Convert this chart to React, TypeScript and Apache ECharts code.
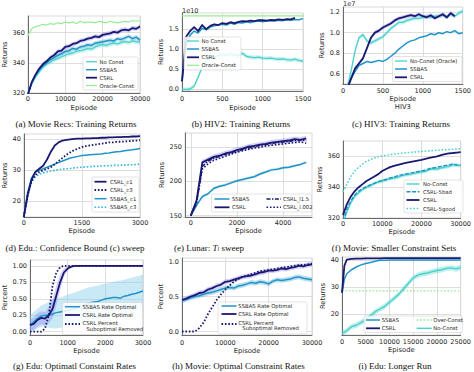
import React, { useEffect, useRef } from 'react';
import * as echarts from 'echarts';

// ---------- (a) Movie Recs: Training Returns ----------
const aX = [0, 1000, 2000, 3000, 4000, 5000, 6000, 7000, 8000, 9000, 10000, 11000, 12000, 13000, 14000, 15000, 16000, 17000, 18000, 19000, 20000, 21000, 22000, 23000, 24000, 25000, 26000, 27000, 28000, 29000, 30000];
const aNoConst = [319, 326, 330.5, 334, 337, 339, 340.5, 342, 343, 344, 345, 346, 346.5, 347.5, 348, 348.5, 349.5, 349, 350.5, 351.5, 352, 351.5, 352.5, 353, 352.5, 353.5, 354, 353.5, 354.5, 354, 353.5];
const aSSBAS = [319, 326.5, 331.5, 335, 338, 340, 342, 343.5, 345, 346, 347.5, 348, 349.5, 349, 350.5, 351, 352, 351.5, 353, 353.5, 354, 354.5, 355, 354.5, 356, 355.5, 356.5, 357.5, 356, 357, 355];
const aCSRL = [319, 327, 332, 336, 339, 341, 343.5, 345, 347.5, 348, 350.5, 351, 352.5, 353, 354.5, 355, 356, 356.5, 357.5, 357, 358.5, 359, 359.5, 360.5, 360, 361.5, 362, 361.5, 363, 362.5, 364];
const aOracle = [358, 362.5, 364, 364.5, 365.5, 365, 366, 365.5, 366.5, 366, 367, 366.5, 367, 366, 367.5, 366.5, 367, 367, 366.5, 367.5, 367, 366.5, 367.5, 367, 366.5, 367, 367.5, 367, 368, 367.5, 368];
const aSpread = 1.5;
const aXTicks = [0, 10000, 20000, 30000];
const aYTicks = [320, 340, 360];

// ---------- (b) HIV2: Training Returns (x1e10) ----------
const bX = [0, 50, 100, 150, 200, 250, 300, 350, 400, 450, 500, 550, 600, 650, 700, 750, 800, 850, 900, 950, 1000, 1050, 1100, 1150, 1200, 1250, 1300, 1350, 1400, 1450, 1500];
const bNoConst = [0, 0, 0.01, 0.08, 0.3, 0.55, 0.72, 0.78, 0.8, 0.84, 0.86, 0.85, 0.88, 0.86, 0.84, 0.9, 0.82, 0.8, 0.79, 0.8, 0.78, 0.77, 0.78, 0.76, 0.75, 0.76, 0.74, 0.73, 0.75, 0.72, 0.7];
const bSSBAS = [0.2, 1.1, 1.35, 1.45, 1.4, 1.52, 1.48, 1.55, 1.58, 1.6, 1.62, 1.6, 1.65, 1.62, 1.66, 1.65, 1.68, 1.66, 1.69, 1.7, 1.68, 1.7, 1.71, 1.7, 1.72, 1.71, 1.73, 1.72, 1.74, 1.73, 1.76];
const bCSRL = [0.2, 1.3, 1.45, 1.55, 1.45, 1.6, 1.5, 1.58, 1.62, 1.6, 1.65, 1.63, 1.67, 1.65, 1.68, 1.7, 1.69, 1.71, 1.7, 1.72, 1.72, 1.71, 1.73, 1.72, 1.74, 1.73, 1.75, 1.74, 1.78];
const bOracleX = [0, 1500];
const bOracle = [1.83, 1.83];
const bSpread = 0.05;
const bXTicks = [0, 500, 1000, 1500];
const bYTicks = [0, 0.5, 1.0, 1.5];

// ---------- (c) HIV3: Training Returns (x1e7) ----------
const cX = [50, 100, 150, 200, 250, 300, 350, 400, 450, 500, 550, 600, 650, 700, 750, 800, 850, 900, 950, 1000, 1050, 1100, 1150, 1200, 1250, 1300, 1350, 1400, 1450, 1500];
const cNoConst = [0.45, 0.62, 0.82, 0.95, 0.98, 0.92, 0.9, 0.92, 0.94, 0.96, 1.0, 1.04, 1.07, 1.1, 1.1, 1.12, 1.13, 1.14, 1.14, 1.15, 1.16, 1.15, 1.16, 1.16, 1.17, 1.15, 1.18, 1.16, 1.19, 1.21];
const cSSBAS = [0.45, 0.55, 0.62, 0.68, 0.7, 0.72, 0.71, 0.72, 0.73, 0.72, 0.74, 0.77, 0.8, 0.84, 0.87, 0.9, 0.92, 0.93, 0.95, 0.96, 0.97, 0.99, 0.98, 1.0, 0.99, 1.01, 1.0, 1.02, 0.99, 1.0];
const cCSRL = [0.45, 0.55, 0.65, 0.7, 0.75, 0.85, 0.95, 1.0, 1.02, 1.05, 1.07, 1.09, 1.12, 1.14, 1.15, 1.16, 1.17, 1.16, 1.18, 1.16, 1.15, 1.17, 1.14, 1.16, 1.18, 1.15, 1.19, 1.16];
const cSpread = 0.02;
const cXTicks = [0, 500, 1000, 1500];
const cYTicks = [0.6, 0.8, 1.0, 1.2];

// ---------- (d) Edu.: Confidence Bound (c) sweep ----------
const dX = [0, 100, 200, 300, 400, 500, 600, 700, 800, 900, 1000, 1100, 1200, 1300, 1400, 1500, 1600, 1700, 1800, 1900, 2000, 2100, 2200, 2300, 2400, 2500, 2600, 2700, 2800, 2900, 3000];
const dCSRLc1 = [15, 22, 27, 29.5, 30.5, 31.5, 33.5, 36, 38, 39, 39.6, 39.8, 40, 40.1, 40.2, 40.2, 40.3, 40.3, 40.4, 40.4, 40.5, 40.5, 40.6, 40.6, 40.7, 40.7, 40.8, 40.8, 40.9, 40.9, 41];
const dCSRLc3 = [15, 22, 26.5, 28.5, 29.5, 30, 30.5, 31, 32, 33, 34, 35, 35.8, 36.5, 37, 37.5, 37.8, 38, 38.2, 38.4, 38.6, 38.8, 39, 39, 39.2, 39.2, 39.3, 39.4, 39.5, 39.6, 39.7];
const dSSBASc1 = [15, 23, 27.5, 29.5, 30, 30.5, 31, 31.5, 32, 32.5, 33, 33.5, 34, 34.2, 34.5, 34.8, 34.9, 35, 35.1, 35.2, 35.3, 35.5, 35.6, 35.8, 36, 36.1, 36.3, 36.5, 36.6, 36.8, 37];
const dSSBASc3 = [15, 22, 26, 28, 28.8, 29.2, 29.5, 29.8, 30, 30.2, 30.4, 30.5, 30.6, 30.8, 30.9, 31, 31.1, 31.2, 31.3, 31.3, 31.4, 31.5, 31.5, 31.6, 31.6, 31.7, 31.7, 31.8, 31.8, 31.9, 32];
const dXTicks = [0, 1500, 3000];
const dYTicks = [20, 30, 40];

// ---------- (e) Lunar: T_l sweep ----------
const eX = [0, 250, 500, 750, 1000, 1250, 1500, 1750, 2000, 2250, 2500, 2750, 3000, 3250, 3500, 3750, 4000, 4250, 4500, 4750, 5000];
const eSSBAS = [150, 165, 178, 182, 190, 193, 195, 198, 201, 203, 205, 207, 211, 214, 217, 218, 220, 221, 223, 225, 228];
const eCSRL = [150, 172, 228, 232, 236, 238, 241, 243, 246, 248, 251, 252, 254, 255, 257, 258, 259, 260, 262, 261, 263];
const eL15 = [150, 168, 222, 230, 234, 237, 240, 242, 245, 247, 249, 251, 253, 254, 256, 257, 258, 259, 260, 261, 260];
const eL002 = [150, 170, 218, 226, 231, 234, 237, 240, 243, 245, 247, 249, 250, 252, 253, 254, 255, 256, 257, 258, 256];
const eSpread = 4;
const eXTicks = [0, 2000, 4000];
const eYTicks = [150, 200, 250];

// ---------- (f) Movie: Smaller Constraint Sets ----------
const fX = aX;
const fNoConst = [316, 324, 330, 334, 336.5, 338.5, 340, 341, 342.5, 343.5, 344, 344.8, 345.5, 346, 346.5, 347.5, 348, 348.3, 349, 349.5, 350, 350.3, 351.5, 352, 351.8, 352.5, 353, 353.5, 354.5, 354.2, 354];
const f5bad = [318, 326, 331, 335, 337.5, 339, 340.5, 341.5, 342.5, 343.5, 344.5, 345, 346, 346.5, 347.5, 348, 348.5, 349, 349.5, 350, 350.5, 351, 352, 352.5, 353, 353.5, 354, 354.5, 355, 354.5, 354.5];
const fCSRL = [322, 329, 334, 337.5, 340, 342, 344, 345.5, 347, 348.5, 350.5, 351.8, 353, 353.8, 354.5, 355.2, 355.8, 356.3, 356.8, 357.3, 357.8, 358.4, 359, 359.5, 360, 360.8, 361.5, 362, 362.2, 362.5, 362.8];
const f5good = [337, 342, 347, 350.5, 353, 355, 357, 358, 359, 359.7, 360.3, 360.7, 361.1, 361.5, 361.8, 362.1, 362.4, 362.6, 362.8, 363, 363.2, 363.4, 363.6, 363.8, 364, 364.2, 364.3, 364.5, 364.7, 364.8, 365];
const fSpread = 1.2;
const fXTicks = [0, 10000, 20000, 30000];
const fYTicks = [320, 340, 360];

// ---------- (g) Edu: Optimal Constraint Rates ----------
const gX = dX;
const gSSBAS = [0.1, 0.15, 0.2, 0.24, 0.25, 0.25, 0.27, 0.29, 0.3, 0.31, 0.32, 0.34, 0.36, 0.38, 0.4, 0.42, 0.44, 0.45, 0.46, 0.48, 0.5, 0.51, 0.52, 0.52, 0.51, 0.54, 0.55, 0.57, 0.58, 0.6, 0.62];
const gSSBASLo = [0, 0.02, 0.05, 0.08, 0.08, 0.06, 0.05, 0.05, 0.06, 0.07, 0.08, 0.09, 0.1, 0.12, 0.13, 0.15, 0.16, 0.17, 0.18, 0.2, 0.21, 0.22, 0.24, 0.25, 0.26, 0.27, 0.29, 0.3, 0.32, 0.34, 0.36];
const gSSBASHi = [0.25, 0.3, 0.35, 0.4, 0.42, 0.45, 0.48, 0.5, 0.52, 0.54, 0.56, 0.58, 0.6, 0.62, 0.64, 0.66, 0.68, 0.69, 0.7, 0.72, 0.73, 0.74, 0.76, 0.77, 0.78, 0.79, 0.81, 0.82, 0.84, 0.85, 0.87];
const gCSRL = [0.1, 0.12, 0.18, 0.21, 0.2, 0.25, 0.35, 0.55, 0.75, 0.9, 0.96, 0.99, 1, 1, 1, 1, 1, 1, 1, 1, 1, 1, 1, 1, 1, 1, 1, 1, 1, 1, 1];
const gCSRLSpread = [0.08, 0.1, 0.1, 0.1, 0.1, 0.12, 0.15, 0.15, 0.12, 0.06, 0.03, 0.01, 0, 0, 0, 0, 0, 0, 0, 0, 0, 0, 0, 0, 0, 0, 0, 0, 0, 0, 0];
const gPct = [0, 0, 0, 0, 0.05, 0.25, 0.7, 0.9, 0.98, 1, 1, 1, 1, 1, 1, 1, 1, 1, 1, 1, 1, 1, 1, 1, 1, 1, 1, 1, 1, 1, 1];
const gXTicks = [0, 1000, 2000, 3000];
const gYTicks = [0, 0.25, 0.5, 0.75, 1.0];

// ---------- (h) Movie: Optimal Constraint Rates ----------
const hX = aX;
const hSSBAS = [0.44, 0.46, 0.48, 0.5, 0.51, 0.53, 0.55, 0.56, 0.58, 0.6, 0.62, 0.63, 0.62, 0.65, 0.66, 0.68, 0.7, 0.69, 0.71, 0.7, 0.68, 0.72, 0.74, 0.73, 0.74, 0.75, 0.77, 0.78, 0.76, 0.75, 0.74];
const hCSRL = [0.45, 0.47, 0.5, 0.52, 0.55, 0.56, 0.6, 0.62, 0.65, 0.67, 0.71, 0.72, 0.74, 0.76, 0.78, 0.79, 0.8, 0.82, 0.84, 0.85, 0.87, 0.87, 0.88, 0.9, 0.89, 0.91, 0.92, 0.94, 0.93, 0.95, 0.96];
const hPct = [0, 0, 0, 0, 0.05, 0.13, 0.25, 0.35, 0.45, 0.53, 0.6, 0.66, 0.71, 0.75, 0.78, 0.8, 0.82, 0.84, 0.86, 0.87, 0.88, 0.89, 0.9, 0.91, 0.92, 0.93, 0.94, 0.95, 0.95, 0.96, 0.97];
const hSpread = 0.035;
const hXTicks = [0, 10000, 20000, 30000];
const hYTicks = [0, 0.5, 1.0];

// ---------- (i) Edu: Longer Run ----------
const iX = [0, 500, 1000, 2000, 3000, 4000, 5000, 6000, 7000, 8000, 9000, 10000, 11000, 12000, 13000, 14000, 15000, 16000, 17000, 18000, 19000, 20000, 21000, 22000, 23000, 24000, 25000];
const iSSBAS = [28, 33, 35, 36.5, 37.5, 38.3, 38.8, 39.2, 39.6, 40, 40, 40.1, 40.1, 40.1, 40.1, 40.1, 40.1, 40.1, 40.1, 40.1, 40.1, 40.1, 40.1, 40.1, 40.1, 40.1, 40.1];
const iCSRL = [28, 38, 40.2, 40.5, 40.6, 40.6, 40.7, 40.7, 40.7, 40.7, 40.8, 40.8, 40.8, 40.8, 40.8, 40.8, 40.8, 40.8, 40.8, 40.8, 40.8, 40.8, 40.8, 40.8, 40.8, 40.8, 40.8];
const iOverX = [0, 25000];
const iOver = [28.7, 28.7];
const iNoConst = [13, 13.5, 14, 15.5, 16, 17, 18, 19.5, 21, 22, 23, 24.5, 26, 27.5, 29.5, 31.5, 33.5, 34.5, 35, 35.3, 35.8, 36.2, 36.5, 37, 37.2, 36.8, 37.3];
const iSpread = 1;
const iXTicks = [0, 5000, 10000, 15000, 20000, 25000];
const iYTicks = [20, 30, 40];

// ---------- styles ----------
const NAVY = '#191970';
const BLUE = '#1f94c8';
const TURQ = '#48d1cc';
const GREEN = '#90ee90';
const CYAN = '#33b5e5';
const PURPLE = '#7b68ee';
const SANS = 'DejaVu Sans';
const SERIF = 'Liberation Serif';
const DOT = [1.6, 1.8];
const DASH = [4, 1.6];
const DASHDOT = [4, 1.5, 1.4, 1.5];

type L = { x: number[]; y: number[]; c: string; w: number; d?: number[] };
type B = { x: number[]; lo: number[]; hi: number[]; c: string; o: number };
type P = {
  box: number[]; xr: number[]; xt: number[]; yr: number[]; yt: number[]; yd: number;
  xName: string; yName: string; lm: number; ng: number; yng: number; lines: L[]; bands: B[];
};

const lo = (ys: number[], s: number | number[]) => ys.map((v, k) => v - (Array.isArray(s) ? s[k] : s));
const hi = (ys: number[], s: number | number[]) => ys.map((v, k) => v + (Array.isArray(s) ? s[k] : s));

const panels: P[] = [
  {
    box: [23, 16, 117, 77], xr: [0, 30000], xt: aXTicks, yr: [320, 371], yt: aYTicks, yd: 0,
    xName: 'Episode', yName: 'Returns', lm: 2.8, ng: 10.8, yng: 14.5,
    bands: [
      { x: aX, lo: lo(aNoConst, aSpread), hi: hi(aNoConst, aSpread), c: TURQ, o: 0.3 },
      { x: aX, lo: lo(aSSBAS, aSpread), hi: hi(aSSBAS, aSpread), c: BLUE, o: 0.25 },
      { x: aX, lo: lo(aCSRL, aSpread), hi: hi(aCSRL, aSpread), c: PURPLE, o: 0.3 },
    ],
    lines: [
      { x: aX, y: aOracle, c: GREEN, w: 1.2 },
      { x: aX, y: aNoConst, c: TURQ, w: 1.3 },
      { x: aX, y: aSSBAS, c: BLUE, w: 1.5 },
      { x: aX, y: aCSRL, c: NAVY, w: 1.8 },
    ],
  },
  {
    box: [182, 13, 121, 78], xr: [0, 1500], xt: bXTicks, yr: [-0.04, 1.9], yt: bYTicks, yd: 1,
    xName: 'Episode', yName: 'Returns', lm: 4.7, ng: 12.8, yng: 16.5,
    bands: [{ x: bX, lo: lo(bNoConst, bSpread), hi: hi(bNoConst, bSpread), c: TURQ, o: 0.3 }],
    lines: [
      { x: bOracleX, y: bOracle, c: GREEN, w: 1.2 },
      { x: bX, y: bNoConst, c: TURQ, w: 1.3 },
      { x: bX, y: bSSBAS, c: BLUE, w: 1.5 },
      { x: bX, y: bCSRL, c: NAVY, w: 1.8 },
    ],
  },
  {
    box: [343, 7, 121, 77], xr: [0, 1500], xt: cXTicks, yr: [0.5, 1.25], yt: cYTicks, yd: 1,
    xName: 'Episode\nHIV3', yName: 'Returns', lm: 3.4, ng: 11.2, yng: 15.5,
    bands: [
      { x: cX, lo: lo(cNoConst, cSpread), hi: hi(cNoConst, cSpread), c: TURQ, o: 0.3 },
      { x: cX.slice(0, cCSRL.length), lo: lo(cCSRL, cSpread), hi: hi(cCSRL, cSpread), c: PURPLE, o: 0.3 },
    ],
    lines: [
      { x: cX, y: cNoConst, c: TURQ, w: 1.3 },
      { x: cX, y: cSSBAS, c: BLUE, w: 1.5 },
      { x: cX, y: cCSRL, c: NAVY, w: 1.8 },
    ],
  },
  {
    box: [21, 134, 119, 83], xr: [0, 3000], xt: dXTicks, yr: [15, 41.7], yt: dYTicks, yd: 0,
    xName: 'Episode', yName: 'Returns', lm: 2.5, ng: 9.5, yng: 13.5,
    bands: [],
    lines: [
      { x: dX, y: dSSBASc3, c: CYAN, w: 1.6, d: DOT },
      { x: dX, y: dSSBASc1, c: BLUE, w: 1.5 },
      { x: dX, y: dCSRLc3, c: NAVY, w: 1.8, d: DOT },
      { x: dX, y: dCSRLc1, c: NAVY, w: 1.8 },
    ],
  },
  {
    box: [185, 133, 127, 84], xr: [-250, 5250], xt: eXTicks, yr: [148, 271], yt: eYTicks, yd: 0,
    xName: 'Episode', yName: 'Returns', lm: 2.5, ng: 8.8, yng: 18.5,
    bands: [
      { x: eX, lo: lo(eCSRL, eSpread), hi: hi(eCSRL, eSpread), c: PURPLE, o: 0.3 },
      { x: eX, lo: lo(eSSBAS, eSpread / 2), hi: hi(eSSBAS, eSpread / 2), c: BLUE, o: 0.2 },
    ],
    lines: [
      { x: eX, y: eSSBAS, c: BLUE, w: 1.5 },
      { x: eX, y: eL002, c: NAVY, w: 1.6, d: DOT },
      { x: eX, y: eL15, c: NAVY, w: 1.6, d: DASHDOT },
      { x: eX, y: eCSRL, c: NAVY, w: 1.8 },
    ],
  },
  {
    box: [343, 141, 130, 77], xr: [0, 30000], xt: fXTicks, yr: [320, 370], yt: fYTicks, yd: 0,
    xName: 'Episode', yName: 'Returns', lm: 2.1, ng: 7.8, yng: 15.5,
    bands: [{ x: fX, lo: lo(fNoConst, fSpread), hi: hi(fNoConst, fSpread), c: TURQ, o: 0.35 }],
    lines: [
      { x: fX, y: fNoConst, c: TURQ, w: 1.4 },
      { x: fX, y: f5bad, c: BLUE, w: 1.4, d: DASH },
      { x: fX, y: fCSRL, c: NAVY, w: 1.8 },
      { x: fX, y: f5good, c: TURQ, w: 1.5, d: DOT },
    ],
  },
  {
    box: [25, 260, 118, 75], xr: [0, 3000], xt: gXTicks, yr: [-0.05, 1.09], yt: gYTicks, yd: 2,
    xName: 'Episode', yName: 'Percent', lm: 4.4, ng: 12.5, yng: 17.5,
    bands: [
      { x: gX, lo: gSSBASLo, hi: gSSBASHi, c: '#87ceeb', o: 0.45 },
      { x: gX, lo: lo(gCSRL, gCSRLSpread), hi: hi(gCSRL, gCSRLSpread), c: PURPLE, o: 0.3 },
    ],
    lines: [
      { x: gX, y: gSSBAS, c: BLUE, w: 1.5 },
      { x: gX, y: gCSRL, c: NAVY, w: 1.8 },
      { x: gX, y: gPct, c: NAVY, w: 1.8, d: DOT },
    ],
  },
  {
    box: [182, 258, 130, 77], xr: [0, 30000], xt: hXTicks, yr: [-0.05, 1.05], yt: hYTicks, yd: 1,
    xName: 'Episode', yName: 'Percent', lm: 4, ng: 12.5, yng: 15.5,
    bands: [
      { x: hX, lo: lo(hSSBAS, hSpread), hi: hi(hSSBAS, hSpread), c: BLUE, o: 0.3 },
      { x: hX, lo: lo(hCSRL, hSpread), hi: hi(hCSRL, hSpread), c: PURPLE, o: 0.3 },
    ],
    lines: [
      { x: hX, y: hSSBAS, c: BLUE, w: 1.5 },
      { x: hX, y: hCSRL, c: NAVY, w: 1.8 },
      { x: hX, y: hPct, c: NAVY, w: 1.8, d: DOT },
    ],
  },
  {
    box: [342, 257, 121, 78], xr: [0, 25000], xt: iXTicks, yr: [12.4, 41.2], yt: iYTicks, yd: 0,
    xName: 'Episode', yName: 'Returns', lm: 3.4, ng: 11.5, yng: 14.5,
    bands: [{ x: iX, lo: lo(iNoConst, iSpread), hi: hi(iNoConst, iSpread), c: TURQ, o: 0.35 }],
    lines: [
      { x: iOverX, y: iOver, c: GREEN, w: 1.3, d: DOT },
      { x: iX, y: iNoConst, c: TURQ, w: 1.4 },
      { x: iX, y: iSSBAS, c: BLUE, w: 1.5 },
      { x: iX, y: iCSRL, c: NAVY, w: 1.8 },
    ],
  },
];

type LI = { t: string; c?: string; w?: number; d?: number[]; lx?: number; len?: number; ly: number; tx: number; ty?: number };
function legendBox(x: number, y: number, w: number, h: number, items: LI[]) {
  const els: any[] = [
    {
      type: 'rect', z: 100, shape: { x, y, width: w, height: h, r: 1.5 },
      style: { fill: 'rgba(255,255,255,0.85)', stroke: '#d0d0d0', lineWidth: 0.6 },
    },
  ];
  items.forEach((it) => {
    if (it.c) {
      els.push({
        type: 'line', z: 101,
        shape: { x1: it.lx!, y1: it.ly, x2: it.lx! + (it.len ?? 12), y2: it.ly },
        style: { stroke: it.c, lineWidth: it.w ?? 1.5, lineDash: it.d ?? null, lineCap: 'butt' },
      });
    }
    els.push({
      type: 'text', z: 101, x: it.tx, y: it.ty ?? it.ly,
      style: { text: it.t, fontSize: 5.3, fontFamily: SANS, fill: '#262626', align: 'left', verticalAlign: 'middle' },
    });
  });
  return els;
}

function caption(text: string, x: number, y: number, rich?: any) {
  return {
    type: 'text', z: 100, x, y,
    style: { text, fontSize: 9, fontFamily: SERIF, fill: '#111', align: 'center', verticalAlign: 'middle', rich },
  };
}

function buildOption(): any {
  const grid = panels.map((p) => ({
    left: p.box[0], top: p.box[1], width: p.box[2], height: p.box[3],
    show: true, borderColor: '#cfcfcf', borderWidth: 0.8,
  }));
  const tickText = { fontSize: 6.5, fontFamily: SANS, color: '#262626' };
  const nameText = { fontSize: 6.8, fontFamily: SANS, color: '#262626', lineHeight: 7.6 };
  const xAxis = panels.map((p, i) => ({
    type: 'value', gridIndex: i, min: p.xr[0], max: p.xr[1],
    axisLine: { show: true, onZero: false, lineStyle: { color: '#4d4d4d', width: 0.8 } },
    axisTick: { show: false, customValues: p.xt },
    axisLabel: { ...tickText, customValues: p.xt, margin: p.lm, formatter: (v: number) => String(v) },
    splitLine: { show: true, lineStyle: { color: '#d6d6d6', width: 0.8 } },
    name: p.xName, nameLocation: 'middle', nameGap: p.ng, nameTextStyle: nameText,
  }));
  const yAxis = panels.map((p, i) => ({
    type: 'value', gridIndex: i, min: p.yr[0], max: p.yr[1],
    axisLine: { show: true, onZero: false, lineStyle: { color: '#4d4d4d', width: 0.8 } },
    axisTick: { show: false, customValues: p.yt },
    axisLabel: { ...tickText, customValues: p.yt, margin: 3, formatter: (v: number) => v.toFixed(p.yd) },
    splitLine: { show: true, lineStyle: { color: '#d6d6d6', width: 0.8 } },
    name: p.yName, nameLocation: 'middle', nameGap: p.yng, nameRotate: 90, nameTextStyle: nameText,
  }));

  const series: any[] = [];
  panels.forEach((p, i) => {
    p.bands.forEach((b) => {
      series.push({
        type: 'custom', xAxisIndex: i, yAxisIndex: i, silent: true, clip: true, z: 1,
        data: b.x.map((x, k) => [x, b.lo[k], b.hi[k]]),
        encode: { x: 0, y: [1, 2] },
        renderItem: (params: any, api: any) => {
          if (params.dataIndex !== 0) return null;
          const cs = params.coordSys;
          const clamp = (pt: number[]) => [
            Math.min(Math.max(pt[0], cs.x), cs.x + cs.width),
            Math.min(Math.max(pt[1], cs.y), cs.y + cs.height),
          ];
          const pts: number[][] = [];
          for (let k = 0; k < b.x.length; k++) pts.push(clamp(api.coord([b.x[k], b.hi[k]])));
          for (let k = b.x.length - 1; k >= 0; k--) pts.push(clamp(api.coord([b.x[k], b.lo[k]])));
          return { type: 'polygon', shape: { points: pts }, style: { fill: b.c, opacity: b.o } };
        },
      });
    });
    p.lines.forEach((l, k) => {
      series.push({
        type: 'line', xAxisIndex: i, yAxisIndex: i, silent: true, clip: true, z: 3 + k,
        data: l.y.map((y, j) => [l.x[j], y]),
        showSymbol: false, symbol: 'none',
        lineStyle: { color: l.c, width: l.w, type: l.d ?? 'solid', cap: 'butt', join: 'round' },
        itemStyle: { color: l.c },
        emphasis: { disabled: true },
      });
    });
  });

  const graphic: any[] = [
    // offset texts
    { type: 'text', z: 100, x: 182, y: 10.5, style: { text: '1e10', fontSize: 6.5, fontFamily: SANS, fill: '#262626', verticalAlign: 'middle' } },
    { type: 'text', z: 100, x: 343, y: 3.6, style: { text: '1e7', fontSize: 6.5, fontFamily: SANS, fill: '#262626', verticalAlign: 'middle' } },
    // legends
    ...legendBox(83, 57, 55, 33, [
      { t: 'No Const', c: TURQ, w: 1.3, lx: 86, len: 11, ly: 61.7, tx: 99.5 },
      { t: 'SSBAS', c: BLUE, w: 1.5, lx: 86, len: 11, ly: 69.7, tx: 99.5 },
      { t: 'CSRL', c: NAVY, w: 1.8, lx: 86, len: 11, ly: 77.7, tx: 99.5 },
      { t: 'Oracle-Const', c: GREEN, w: 1.2, lx: 86, len: 11, ly: 85.5, tx: 99.5 },
    ]),
    ...legendBox(184, 37, 57, 33, [
      { t: 'No Const', c: TURQ, w: 1.3, lx: 187, len: 12, ly: 41, tx: 201.5 },
      { t: 'SSBAS', c: BLUE, w: 1.5, lx: 187, len: 12, ly: 49, tx: 201.5 },
      { t: 'CSRL', c: NAVY, w: 1.8, lx: 187, len: 12, ly: 57.3, tx: 201.5 },
      { t: 'Oracle-Const', c: GREEN, w: 1.2, lx: 187, len: 12, ly: 65.3, tx: 201.5 },
    ]),
    ...legendBox(392.5, 56.5, 69.5, 25, [
      { t: 'No-Const (Oracle)', c: TURQ, w: 1.3, lx: 395, len: 12, ly: 61, tx: 410 },
      { t: 'SSBAS', c: BLUE, w: 1.5, lx: 395, len: 12, ly: 69, tx: 410 },
      { t: 'CSRL', c: NAVY, w: 1.8, lx: 395, len: 12, ly: 77.3, tx: 410 },
    ]),
    ...legendBox(92, 177, 47, 35, [
      { t: 'CSRL_c1', c: NAVY, w: 1.8, lx: 94.5, len: 12, ly: 181.7, tx: 110 },
      { t: 'CSRL_c3', c: NAVY, w: 1.8, d: DOT, lx: 94.5, len: 12, ly: 190, tx: 110 },
      { t: 'SSBAS_c1', c: BLUE, w: 1.5, lx: 94.5, len: 12, ly: 198.7, tx: 110 },
      { t: 'SSBAS_c3', c: CYAN, w: 1.6, d: DOT, lx: 94.5, len: 12, ly: 207.3, tx: 110 },
    ]),
    ...legendBox(211.5, 194, 100, 18, [
      { t: 'SSBAS', c: BLUE, w: 1.5, lx: 214.5, len: 15, ly: 199, tx: 232 },
      { t: 'CSRL', c: NAVY, w: 1.8, lx: 214.5, len: 15, ly: 207.3, tx: 232 },
      { t: 'CSRL_l1.5', c: NAVY, w: 1.6, d: DASHDOT, lx: 266.5, len: 14.5, ly: 199, tx: 283 },
      { t: 'CSRL_l.002', c: NAVY, w: 1.6, d: DOT, lx: 266.5, len: 14.5, ly: 207.3, tx: 283 },
    ]),
    ...legendBox(404, 180, 59, 33, [
      { t: 'No-Const', c: TURQ, w: 1.4, lx: 406.5, len: 13, ly: 184, tx: 423 },
      { t: 'CSRL-5bad', c: BLUE, w: 1.4, d: DASH, lx: 406.5, len: 13, ly: 191.7, tx: 423 },
      { t: 'CSRL', c: NAVY, w: 1.8, lx: 406.5, len: 13, ly: 200, tx: 423 },
      { t: 'CSRL-5good', c: TURQ, w: 1.5, d: DOT, lx: 406.5, len: 13, ly: 208.5, tx: 423 },
    ]),
    ...legendBox(62.5, 302.5, 80, 32, [
      { t: 'SSBAS Rate Optimal', c: BLUE, w: 1.5, lx: 65, len: 15, ly: 306.7, tx: 82.5 },
      { t: 'CSRL Rate Optimal', c: NAVY, w: 1.8, lx: 65, len: 15, ly: 315, tx: 82.5 },
      { t: 'CSRL Percent', c: NAVY, w: 1.8, d: DOT, lx: 65, len: 15, ly: 324, tx: 82.5, ty: 322.5 },
      { t: 'Suboptimal Removed', ly: 328.5, tx: 86.5 },
    ]),
    ...legendBox(218, 302, 89, 32, [
      { t: 'SSBAS Rate Optimal', c: BLUE, w: 1.5, lx: 221.5, len: 15, ly: 306, tx: 238.3 },
      { t: 'CSRL Rate Optimal', c: NAVY, w: 1.8, lx: 221.5, len: 15, ly: 314, tx: 238.3 },
      { t: 'CSRL Percent', c: NAVY, w: 1.8, d: DOT, lx: 221.5, len: 15, ly: 324, tx: 238.3, ty: 322.5 },
      { t: 'Suboptimal Removed', ly: 328.3, tx: 242.3 },
    ]),
    ...legendBox(364, 316, 98.5, 16.5, [
      { t: 'SSBAS', c: BLUE, w: 1.5, lx: 366, len: 14, ly: 320, tx: 381.7 },
      { t: 'CSRL', c: NAVY, w: 1.8, lx: 366, len: 14, ly: 328.3, tx: 381.7 },
      { t: 'Over-Const', c: GREEN, w: 1.3, d: DOT, lx: 416.7, len: 15, ly: 320, tx: 433.3 },
      { t: 'No-Const', c: TURQ, w: 1.4, lx: 416.7, len: 15, ly: 328.3, tx: 433.3 },
    ]),
    // captions
    caption('(a) Movie Recs: Training Returns', 76, 124),
    caption('(b) HIV2: Training Returns', 241, 124),
    caption('(c) HIV3: Training Returns', 401, 124),
    caption('(d) Edu.: Confidence Bound (c) sweep', 75, 247.5),
    caption('(e) Lunar: {it|T}{sub|l} sweep', 209, 247.5, {
      it: { fontSize: 9, fontFamily: SERIF, fontStyle: 'italic', fill: '#111' },
      sub: { fontSize: 6, fontFamily: SERIF, fontStyle: 'italic', fill: '#111', verticalAlign: 'bottom', padding: [3, 0, 0, 0] },
    }),
    caption('(f) Movie: Smaller Constraint Sets', 394, 247.5),
    caption('(g) Edu: Optimatl Constaint Rates', 74.5, 366),
    caption('(h) Movie: Optimal Constraint Rates', 238.5, 366),
    caption('(i) Edu: Longer Run', 395, 366),
  ];

  return { animation: false, backgroundColor: '#ffffff', grid, xAxis, yAxis, series, graphic };
}

export default function App() {
  const ref = useRef<HTMLDivElement>(null);
  useEffect(() => {
    const chart = echarts.init(ref.current!, null, { renderer: 'svg', width: 474, height: 372 });
    chart.setOption(buildOption());
    return () => chart.dispose();
  }, []);
  return (
    <div
      ref={ref}
      style={{ position: 'fixed', left: 0, top: 0, width: 474, height: 372, background: '#fff' }}
    />
  );
}
